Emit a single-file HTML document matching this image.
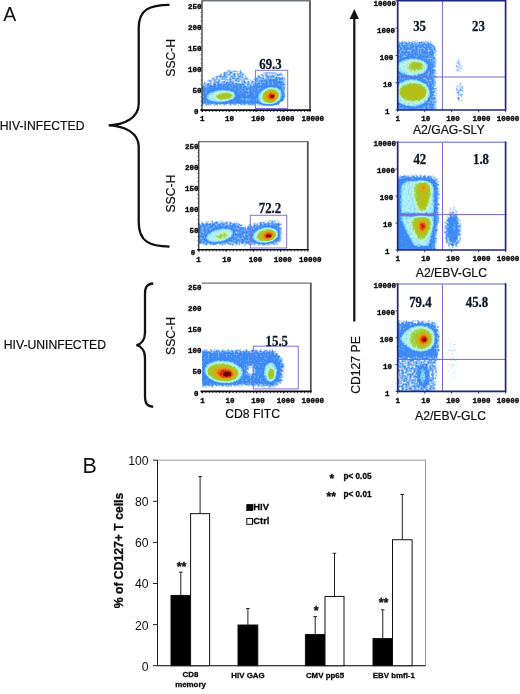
<!DOCTYPE html>
<html><head><meta charset="utf-8"><title>Figure</title>
<style>
html,body{margin:0;padding:0;background:#fff;}
body{width:520px;height:694px;overflow:hidden;}
svg{display:block;filter:blur(0.4px);}
</style></head>
<body>
<svg width="520" height="694" viewBox="0 0 520 694">
<rect width="520" height="694" fill="#fff"/>
<defs>
<filter id="cm" x="0" y="0" width="1" height="1" color-interpolation-filters="sRGB">
<feTurbulence type="fractalNoise" baseFrequency="0.5" numOctaves="2" seed="3" result="n"/>
<feColorMatrix in="n" type="matrix" values="0 0 0 0 0  0 0 0 0 0  0 0 0 0 0  1 0 0 0 0" result="na"/>
<feComponentTransfer in="SourceGraphic" result="m"><feFuncA type="table" tableValues="0 0.6 1 1 0.8 0.5 0.4 0.3 0.25 0.3 0.3 0.3 0.3 0.3 0.3 0.3 0.3 0.3 0.3 0.3 0.3"/></feComponentTransfer>
<feComposite in="m" in2="na" operator="in" result="mn"/>
<feComposite in="SourceGraphic" in2="mn" operator="arithmetic" k1="0" k2="1" k3="0.4" k4="0" result="t"/>
<feComposite in="t" in2="m" operator="arithmetic" k1="0" k2="1" k3="-0.2" k4="0" result="d"/>
<feColorMatrix type="matrix" values="0 0 0 1 0  0 0 0 1 0  0 0 0 1 0  0 0 0 0 1"/>
<feComponentTransfer>
<feFuncR type="table" tableValues="1.000 1.000 1.000 0.882 0.765 0.669 0.574 0.478 0.420 0.361 0.302 0.243 0.243 0.243 0.243 0.243 0.308 0.374 0.439 0.525 0.612 0.698 0.736 0.773 0.741 0.639 0.598 0.618 0.648 0.689 0.729 0.773 0.816 0.859 0.902 0.898 0.894 0.890 0.886 0.857 0.827 0.798 0.769 0.694 0.620 0.545 0.471 0.402 0.333 0.265 0.196"/>
<feFuncG type="table" tableValues="1.000 1.000 1.000 0.935 0.871 0.813 0.756 0.698 0.659 0.620 0.580 0.541 0.541 0.541 0.541 0.541 0.617 0.693 0.769 0.830 0.892 0.953 0.948 0.944 0.914 0.859 0.820 0.796 0.776 0.761 0.745 0.718 0.690 0.663 0.635 0.565 0.494 0.424 0.353 0.289 0.225 0.162 0.098 0.074 0.049 0.025 0.000 0.000 0.000 0.000 0.000"/>
<feFuncB type="table" tableValues="1.000 1.000 1.000 0.994 0.988 0.983 0.978 0.973 0.969 0.965 0.961 0.957 0.957 0.957 0.957 0.957 0.962 0.967 0.973 0.975 0.978 0.980 0.852 0.723 0.573 0.400 0.279 0.211 0.155 0.113 0.071 0.076 0.082 0.088 0.094 0.090 0.086 0.082 0.078 0.078 0.078 0.078 0.078 0.059 0.039 0.020 0.000 0.000 0.000 0.000 0.000"/>
</feComponentTransfer>
<feGaussianBlur stdDeviation="0.7"/>
</filter>
<filter id="b0_5" x="-100%" y="-100%" width="300%" height="300%" color-interpolation-filters="sRGB"><feGaussianBlur stdDeviation="0.5"/></filter>
<filter id="b0_8" x="-100%" y="-100%" width="300%" height="300%" color-interpolation-filters="sRGB"><feGaussianBlur stdDeviation="0.8"/></filter>
<filter id="b1" x="-100%" y="-100%" width="300%" height="300%" color-interpolation-filters="sRGB"><feGaussianBlur stdDeviation="1"/></filter>
<filter id="b1_2" x="-100%" y="-100%" width="300%" height="300%" color-interpolation-filters="sRGB"><feGaussianBlur stdDeviation="1.2"/></filter>
<filter id="b1_5" x="-100%" y="-100%" width="300%" height="300%" color-interpolation-filters="sRGB"><feGaussianBlur stdDeviation="1.5"/></filter>
<filter id="b2" x="-100%" y="-100%" width="300%" height="300%" color-interpolation-filters="sRGB"><feGaussianBlur stdDeviation="2"/></filter>
<filter id="b2_5" x="-100%" y="-100%" width="300%" height="300%" color-interpolation-filters="sRGB"><feGaussianBlur stdDeviation="2.5"/></filter>
<filter id="b3" x="-100%" y="-100%" width="300%" height="300%" color-interpolation-filters="sRGB"><feGaussianBlur stdDeviation="3"/></filter>
<filter id="b4" x="-100%" y="-100%" width="300%" height="300%" color-interpolation-filters="sRGB"><feGaussianBlur stdDeviation="4"/></filter>
<filter id="fr" x="-30%" y="-30%" width="160%" height="160%" color-interpolation-filters="sRGB"><feMorphology operator="dilate" radius="1.8"/><feGaussianBlur stdDeviation="1.4"/></filter>
</defs>
<g>
<clipPath id="c202_0"><rect x="202" y="0.8" width="108" height="109.3"/></clipPath><g filter="url(#cm)"><rect x="202" y="0.8" width="108" height="109.3" fill="none"/><g clip-path="url(#c202_0)"><path d="M201,84 L214,77 L228,70 L240,70 L247,77 L251,81 L258,75 L266,72 L283,73 L286,80 L285,100 L279,105 L201,105Z" fill-rule="evenodd" fill="#fff" fill-opacity="0.125" filter="url(#b1)"/><path d="M201,87 L215,84 L236,83 L250,88 L258,82 L270,78 L281,78 L284,88 L283,100 L277,104.5 L201,104.5Z" fill-rule="evenodd" fill="#fff" fill-opacity="0.097" filter="url(#b1_2)"/><ellipse cx="247" cy="99.5" rx="11" ry="2.6" fill="#fff" fill-opacity="0.177" filter="url(#b1_5)"/><ellipse cx="221" cy="96" rx="15" ry="6.4" fill="#fff" fill-opacity="0.266" filter="url(#b1_2)" transform="rotate(-4 221 96)"/><ellipse cx="224.3" cy="96.2" rx="8.7" ry="3.1" fill="#fff" fill-opacity="0.259" filter="url(#b1)" transform="rotate(-4 224.3 96.2)"/><ellipse cx="270" cy="96" rx="12.5" ry="9.3" fill="#fff" fill-opacity="0.266" filter="url(#b1_2)" transform="rotate(-15 270 96)"/><ellipse cx="270.5" cy="96" rx="8.5" ry="6.7" fill="#fff" fill-opacity="0.259" filter="url(#b1)" transform="rotate(-15 270.5 96)"/><ellipse cx="271" cy="96.1" rx="5.5" ry="4.5" fill="#fff" fill-opacity="0.302" filter="url(#b0_8)" transform="rotate(-15 271 96.1)"/><ellipse cx="271.9" cy="96.2" rx="3.2" ry="2.6" fill="#fff" fill-opacity="0.467" filter="url(#b0_8)" transform="rotate(-15 271.9 96.2)"/><ellipse cx="272.2" cy="96.2" rx="1.5" ry="1.2" fill="#fff" fill-opacity="0.687" filter="url(#b0_5)"/></g></g><line x1="310" y1="0.8" x2="310" y2="110.1" stroke="#555" stroke-width="1.8"/><line x1="201.7" y1="0.8" x2="310.9" y2="0.8" stroke="#6f767c" stroke-width="1.4"/><line x1="202" y1="0.8" x2="202" y2="110.1" stroke="#181818" stroke-width="1.1"/><line x1="201.1" y1="110.1" x2="201.1" y2="2.8" stroke="#333" stroke-width="0.8" stroke-dasharray="0.9 3.32"/><line x1="202" y1="111.3" x2="310" y2="111.3" stroke="#181828" stroke-width="1" stroke-dasharray="1 2.4"/><line x1="200.5" y1="110.1" x2="310.9" y2="110.1" stroke="#0c0c18" stroke-width="1.6"/><line x1="202.0" y1="110.1" x2="202.0" y2="112.1" stroke="#0c0c18" stroke-width="0.9"/><line x1="229.0" y1="110.1" x2="229.0" y2="112.1" stroke="#0c0c18" stroke-width="0.9"/><line x1="256.0" y1="110.1" x2="256.0" y2="112.1" stroke="#0c0c18" stroke-width="0.9"/><line x1="283.0" y1="110.1" x2="283.0" y2="112.1" stroke="#0c0c18" stroke-width="0.9"/><line x1="310.0" y1="110.1" x2="310.0" y2="112.1" stroke="#0c0c18" stroke-width="0.9"/><rect x="255.4" y="70.3" width="32.29999999999998" height="38.2" fill="none" stroke="#8272d8" stroke-width="1"/><text x="201.6" y="8.95" text-anchor="end" style="font-family:'Liberation Mono',monospace;font-weight:bold;font-size:7.5px;fill:#0a0a0a;stroke:#0a0a0a;stroke-width:0.35px">250</text><text x="201.6" y="30.05" text-anchor="end" style="font-family:'Liberation Mono',monospace;font-weight:bold;font-size:7.5px;fill:#0a0a0a;stroke:#0a0a0a;stroke-width:0.35px">200</text><text x="201.6" y="51.15" text-anchor="end" style="font-family:'Liberation Mono',monospace;font-weight:bold;font-size:7.5px;fill:#0a0a0a;stroke:#0a0a0a;stroke-width:0.35px">150</text><text x="201.6" y="72.25" text-anchor="end" style="font-family:'Liberation Mono',monospace;font-weight:bold;font-size:7.5px;fill:#0a0a0a;stroke:#0a0a0a;stroke-width:0.35px">100</text><text x="201.6" y="93.35" text-anchor="end" style="font-family:'Liberation Mono',monospace;font-weight:bold;font-size:7.5px;fill:#0a0a0a;stroke:#0a0a0a;stroke-width:0.35px">50</text><text x="198.4" y="114.35" text-anchor="end" style="font-family:'Liberation Mono',monospace;font-weight:bold;font-size:7.5px;fill:#0a0a0a;stroke:#0a0a0a;stroke-width:0.35px">0</text><text x="202.3" y="121.05" text-anchor="middle" style="font-family:'Liberation Mono',monospace;font-weight:bold;font-size:7.5px;fill:#0a0a0a;stroke:#0a0a0a;stroke-width:0.35px">1</text><text x="229.5" y="121.05" text-anchor="middle" style="font-family:'Liberation Mono',monospace;font-weight:bold;font-size:7.5px;fill:#0a0a0a;stroke:#0a0a0a;stroke-width:0.35px">10</text><text x="258.1" y="121.05" text-anchor="middle" style="font-family:'Liberation Mono',monospace;font-weight:bold;font-size:7.5px;fill:#0a0a0a;stroke:#0a0a0a;stroke-width:0.35px">100</text><text x="285.5" y="121.05" text-anchor="middle" style="font-family:'Liberation Mono',monospace;font-weight:bold;font-size:7.5px;fill:#0a0a0a;stroke:#0a0a0a;stroke-width:0.35px">1000</text><text x="312.8" y="121.05" text-anchor="middle" style="font-family:'Liberation Mono',monospace;font-weight:bold;font-size:7.5px;fill:#0a0a0a;stroke:#0a0a0a;stroke-width:0.35px">10000</text><text transform="translate(270.5 69.1) scale(1 1.07)" text-anchor="middle" style="font-family:'Liberation Serif',serif;font-weight:bold;font-size:12.8px;fill:#0a1626;stroke:#0a1626;stroke-width:0.25px">69.3</text>
<clipPath id="c198_141"><rect x="198.8" y="141.6" width="109.0" height="108.1"/></clipPath><g filter="url(#cm)"><rect x="198.8" y="141.6" width="109.0" height="108.1" fill="none"/><g clip-path="url(#c198_141)"><path d="M197,224.5 L215,223.5 L235,224.5 L241,227.5 L247,229.5 L252,226.5 L262,224.5 L275,223 L279.5,226 L279.5,238.5 L275,242.7 L197,242.7Z" fill-rule="evenodd" fill="#fff" fill-opacity="0.170" filter="url(#fr)"/><path d="M197,224.5 L215,223.5 L235,224.5 L241,227.5 L247,229.5 L252,226.5 L262,224.5 L275,223 L279.5,226 L279.5,238.5 L275,242.7 L197,242.7Z" fill-rule="evenodd" fill="#fff" fill-opacity="0.030" filter="url(#b1)"/><ellipse cx="219.7" cy="235.4" rx="14.3" ry="6.9" fill="#fff" fill-opacity="0.280" filter="url(#b1_2)" transform="rotate(-14 219.7 235.4)"/><ellipse cx="222" cy="236" rx="7" ry="2.8" fill="#fff" fill-opacity="0.172" filter="url(#b1)" transform="rotate(-14 222 236)"/><ellipse cx="265.5" cy="235.2" rx="13.5" ry="8.2" fill="#fff" fill-opacity="0.280" filter="url(#b1_2)" transform="rotate(-10 265.5 235.2)"/><ellipse cx="266.5" cy="235.4" rx="9.8" ry="5.8" fill="#fff" fill-opacity="0.259" filter="url(#b1)" transform="rotate(-10 266.5 235.4)"/><ellipse cx="267.6" cy="235.4" rx="6.3" ry="3.9" fill="#fff" fill-opacity="0.302" filter="url(#b0_8)" transform="rotate(-10 267.6 235.4)"/><ellipse cx="268.5" cy="235.7" rx="3.8" ry="2.7" fill="#fff" fill-opacity="0.467" filter="url(#b0_8)" transform="rotate(-10 268.5 235.7)"/><ellipse cx="268.9" cy="235.9" rx="2" ry="1.2" fill="#fff" fill-opacity="0.687" filter="url(#b0_5)"/></g></g><line x1="307.8" y1="141.6" x2="307.8" y2="249.7" stroke="#555" stroke-width="1.8"/><line x1="198.5" y1="141.6" x2="308.7" y2="141.6" stroke="#6f767c" stroke-width="1.4"/><line x1="198.8" y1="141.6" x2="198.8" y2="249.7" stroke="#181818" stroke-width="1.1"/><line x1="197.9" y1="249.7" x2="197.9" y2="143.6" stroke="#333" stroke-width="0.8" stroke-dasharray="0.9 3.32"/><line x1="198.8" y1="250.89999999999998" x2="307.8" y2="250.89999999999998" stroke="#181828" stroke-width="1" stroke-dasharray="1 2.4"/><line x1="197.3" y1="249.7" x2="308.7" y2="249.7" stroke="#0c0c18" stroke-width="1.6"/><line x1="198.8" y1="249.7" x2="198.8" y2="251.7" stroke="#0c0c18" stroke-width="0.9"/><line x1="226.1" y1="249.7" x2="226.1" y2="251.7" stroke="#0c0c18" stroke-width="0.9"/><line x1="253.3" y1="249.7" x2="253.3" y2="251.7" stroke="#0c0c18" stroke-width="0.9"/><line x1="280.6" y1="249.7" x2="280.6" y2="251.7" stroke="#0c0c18" stroke-width="0.9"/><line x1="307.8" y1="249.7" x2="307.8" y2="251.7" stroke="#0c0c18" stroke-width="0.9"/><rect x="250.3" y="215.3" width="36.39999999999998" height="32.69999999999999" fill="none" stroke="#8272d8" stroke-width="1"/><text x="198.4" y="148.55" text-anchor="end" style="font-family:'Liberation Mono',monospace;font-weight:bold;font-size:7.5px;fill:#0a0a0a;stroke:#0a0a0a;stroke-width:0.35px">250</text><text x="198.4" y="169.65" text-anchor="end" style="font-family:'Liberation Mono',monospace;font-weight:bold;font-size:7.5px;fill:#0a0a0a;stroke:#0a0a0a;stroke-width:0.35px">200</text><text x="198.4" y="190.75" text-anchor="end" style="font-family:'Liberation Mono',monospace;font-weight:bold;font-size:7.5px;fill:#0a0a0a;stroke:#0a0a0a;stroke-width:0.35px">150</text><text x="198.4" y="211.85000000000002" text-anchor="end" style="font-family:'Liberation Mono',monospace;font-weight:bold;font-size:7.5px;fill:#0a0a0a;stroke:#0a0a0a;stroke-width:0.35px">100</text><text x="198.4" y="232.95000000000002" text-anchor="end" style="font-family:'Liberation Mono',monospace;font-weight:bold;font-size:7.5px;fill:#0a0a0a;stroke:#0a0a0a;stroke-width:0.35px">50</text><text x="195.20000000000002" y="254.55" text-anchor="end" style="font-family:'Liberation Mono',monospace;font-weight:bold;font-size:7.5px;fill:#0a0a0a;stroke:#0a0a0a;stroke-width:0.35px">0</text><text x="198.5" y="261.85" text-anchor="middle" style="font-family:'Liberation Mono',monospace;font-weight:bold;font-size:7.5px;fill:#0a0a0a;stroke:#0a0a0a;stroke-width:0.35px">1</text><text x="226.7" y="261.85" text-anchor="middle" style="font-family:'Liberation Mono',monospace;font-weight:bold;font-size:7.5px;fill:#0a0a0a;stroke:#0a0a0a;stroke-width:0.35px">10</text><text x="255.5" y="261.85" text-anchor="middle" style="font-family:'Liberation Mono',monospace;font-weight:bold;font-size:7.5px;fill:#0a0a0a;stroke:#0a0a0a;stroke-width:0.35px">100</text><text x="282.7" y="261.85" text-anchor="middle" style="font-family:'Liberation Mono',monospace;font-weight:bold;font-size:7.5px;fill:#0a0a0a;stroke:#0a0a0a;stroke-width:0.35px">1000</text><text x="310.2" y="261.85" text-anchor="middle" style="font-family:'Liberation Mono',monospace;font-weight:bold;font-size:7.5px;fill:#0a0a0a;stroke:#0a0a0a;stroke-width:0.35px">10000</text><text transform="translate(270 213.3) scale(1 1.07)" text-anchor="middle" style="font-family:'Liberation Serif',serif;font-weight:bold;font-size:12.8px;fill:#0a1626;stroke:#0a1626;stroke-width:0.25px">72.2</text>
<clipPath id="c202_283"><rect x="202" y="283.1" width="108.80000000000001" height="108.29999999999995"/></clipPath><g filter="url(#cm)"><rect x="202" y="283.1" width="108.80000000000001" height="108.29999999999995" fill="none"/><g clip-path="url(#c202_283)"><path d="M201,352 L273,352 L279,358.5 L282,366 L280,380 L272,385 L250,383.5 L201,385Z M250.5,363.5 C254,363.5 255.5,367 255.5,370.5 C255.5,374 254,377.5 250.5,377.5 C247.5,377.5 246,374 246,370.5 C246,367 247.5,363.5 250.5,363.5Z" fill-rule="evenodd" fill="#fff" fill-opacity="0.170" filter="url(#fr)"/><path d="M201,352 L273,352 L279,358.5 L282,366 L280,380 L272,385 L250,383.5 L201,385Z M250.5,363.5 C254,363.5 255.5,367 255.5,370.5 C255.5,374 254,377.5 250.5,377.5 C247.5,377.5 246,374 246,370.5 C246,367 247.5,363.5 250.5,363.5Z" fill-rule="evenodd" fill="#fff" fill-opacity="0.072" filter="url(#b1)"/><ellipse cx="223.7" cy="371.8" rx="19.6" ry="11.6" fill="#fff" fill-opacity="0.247" filter="url(#b1_2)" transform="rotate(6 223.7 371.8)"/><ellipse cx="223" cy="372.4" rx="15.6" ry="8.9" fill="#fff" fill-opacity="0.259" filter="url(#b1)" transform="rotate(6 223 372.4)"/><ellipse cx="224.3" cy="373" rx="11" ry="6" fill="#fff" fill-opacity="0.302" filter="url(#b0_8)" transform="rotate(6 224.3 373)"/><ellipse cx="225.8" cy="373.9" rx="6.7" ry="4.2" fill="#fff" fill-opacity="0.467" filter="url(#b0_8)" transform="rotate(6 225.8 373.9)"/><ellipse cx="227.2" cy="374.3" rx="3.5" ry="2.2" fill="#fff" fill-opacity="0.687" filter="url(#b0_5)" transform="rotate(6 227.2 374.3)"/><ellipse cx="270.5" cy="372" rx="6.8" ry="10.3" fill="#fff" fill-opacity="0.247" filter="url(#b1_2)"/><ellipse cx="271.2" cy="373.9" rx="2.9" ry="5.8" fill="#fff" fill-opacity="0.310" filter="url(#b0_8)"/></g></g><line x1="310.8" y1="283.1" x2="310.8" y2="391.4" stroke="#555" stroke-width="1.8"/><line x1="201.7" y1="283.1" x2="311.7" y2="283.1" stroke="#6f767c" stroke-width="1.4"/><line x1="202" y1="392.59999999999997" x2="310.8" y2="392.59999999999997" stroke="#181828" stroke-width="1" stroke-dasharray="1 2.4"/><line x1="200.5" y1="391.4" x2="311.7" y2="391.4" stroke="#0c0c18" stroke-width="1.6"/><line x1="202.0" y1="391.4" x2="202.0" y2="393.4" stroke="#0c0c18" stroke-width="0.9"/><line x1="229.2" y1="391.4" x2="229.2" y2="393.4" stroke="#0c0c18" stroke-width="0.9"/><line x1="256.4" y1="391.4" x2="256.4" y2="393.4" stroke="#0c0c18" stroke-width="0.9"/><line x1="283.6" y1="391.4" x2="283.6" y2="393.4" stroke="#0c0c18" stroke-width="0.9"/><line x1="310.8" y1="391.4" x2="310.8" y2="393.4" stroke="#0c0c18" stroke-width="0.9"/><rect x="253.3" y="346.2" width="45.0" height="42.69999999999999" fill="none" stroke="#8272d8" stroke-width="1"/><text x="201.6" y="290.05" text-anchor="end" style="font-family:'Liberation Mono',monospace;font-weight:bold;font-size:7.5px;fill:#0a0a0a;stroke:#0a0a0a;stroke-width:0.35px">250</text><text x="201.6" y="311.15000000000003" text-anchor="end" style="font-family:'Liberation Mono',monospace;font-weight:bold;font-size:7.5px;fill:#0a0a0a;stroke:#0a0a0a;stroke-width:0.35px">200</text><text x="201.6" y="332.25" text-anchor="end" style="font-family:'Liberation Mono',monospace;font-weight:bold;font-size:7.5px;fill:#0a0a0a;stroke:#0a0a0a;stroke-width:0.35px">150</text><text x="201.6" y="353.35" text-anchor="end" style="font-family:'Liberation Mono',monospace;font-weight:bold;font-size:7.5px;fill:#0a0a0a;stroke:#0a0a0a;stroke-width:0.35px">100</text><text x="201.6" y="374.45" text-anchor="end" style="font-family:'Liberation Mono',monospace;font-weight:bold;font-size:7.5px;fill:#0a0a0a;stroke:#0a0a0a;stroke-width:0.35px">50</text><text x="198.4" y="396.05" text-anchor="end" style="font-family:'Liberation Mono',monospace;font-weight:bold;font-size:7.5px;fill:#0a0a0a;stroke:#0a0a0a;stroke-width:0.35px">0</text><text x="202.6" y="403.35" text-anchor="middle" style="font-family:'Liberation Mono',monospace;font-weight:bold;font-size:7.5px;fill:#0a0a0a;stroke:#0a0a0a;stroke-width:0.35px">1</text><text x="229.9" y="403.35" text-anchor="middle" style="font-family:'Liberation Mono',monospace;font-weight:bold;font-size:7.5px;fill:#0a0a0a;stroke:#0a0a0a;stroke-width:0.35px">10</text><text x="258.1" y="403.35" text-anchor="middle" style="font-family:'Liberation Mono',monospace;font-weight:bold;font-size:7.5px;fill:#0a0a0a;stroke:#0a0a0a;stroke-width:0.35px">100</text><text x="285.7" y="403.35" text-anchor="middle" style="font-family:'Liberation Mono',monospace;font-weight:bold;font-size:7.5px;fill:#0a0a0a;stroke:#0a0a0a;stroke-width:0.35px">1000</text><text x="312.8" y="403.35" text-anchor="middle" style="font-family:'Liberation Mono',monospace;font-weight:bold;font-size:7.5px;fill:#0a0a0a;stroke:#0a0a0a;stroke-width:0.35px">10000</text><text transform="translate(276.8 345.5) scale(1 1.07)" text-anchor="middle" style="font-family:'Liberation Serif',serif;font-weight:bold;font-size:12.8px;fill:#0a1626;stroke:#0a1626;stroke-width:0.25px">15.5</text>
<clipPath id="c397_0"><rect x="397.7" y="0.8" width="107.90000000000003" height="109.2"/></clipPath><g filter="url(#cm)"><rect x="397.7" y="0.8" width="107.90000000000003" height="109.2" fill="none"/><g clip-path="url(#c397_0)"><path d="M396,43.5 L424.8,43.5 Q433.8,43.5 433.8,52.5 L433.8,111 L396,111Z" fill-rule="evenodd" fill="#fff" fill-opacity="0.170" filter="url(#fr)"/><path d="M396,43.5 L424.8,43.5 Q433.8,43.5 433.8,52.5 L433.8,111 L396,111Z" fill-rule="evenodd" fill="#fff" fill-opacity="0.036" filter="url(#b1)"/><ellipse cx="412.5" cy="67" rx="16" ry="9.3" fill="#fff" fill-opacity="0.275" filter="url(#b1_2)"/><ellipse cx="415.5" cy="66.5" rx="9.2" ry="5.6" fill="#fff" fill-opacity="0.155" filter="url(#b1)"/><ellipse cx="416" cy="65.6" rx="4.8" ry="2.4" fill="#fff" fill-opacity="0.163" filter="url(#b0_8)"/><ellipse cx="412" cy="93" rx="18.5" ry="14.2" fill="#fff" fill-opacity="0.275" filter="url(#b1_2)"/><ellipse cx="413" cy="92.3" rx="14.2" ry="9.8" fill="#fff" fill-opacity="0.190" filter="url(#b1)"/><ellipse cx="413.5" cy="92.3" rx="12.2" ry="7.3" fill="#fff" fill-opacity="0.149" filter="url(#b0_8)"/><ellipse cx="459" cy="65.8" rx="3.8" ry="7.5" fill="#fff" fill-opacity="0.080" filter="url(#b1_2)"/><ellipse cx="459.7" cy="92" rx="4.5" ry="10.5" fill="#fff" fill-opacity="0.084" filter="url(#b1_2)"/></g></g><line x1="442.4" y1="0.8" x2="442.4" y2="110" stroke="#7468d4" stroke-width="1"/><line x1="397.7" y1="77" x2="505.6" y2="77" stroke="#7468d4" stroke-width="1"/><line x1="397.7" y1="0.8" x2="505.6" y2="0.8" stroke="#1e2684" stroke-width="1.6"/><path d="M397.7,0.0 L397.7,110 L505.6,110 L505.6,0.0" fill="none" stroke="#1e2684" stroke-width="1.7"/><line x1="397.7" y1="110" x2="397.7" y2="112.2" stroke="#1e2684" stroke-width="0.9"/><line x1="395.5" y1="0.8" x2="397.7" y2="0.8" stroke="#1e2684" stroke-width="0.9"/><line x1="424.7" y1="110" x2="424.7" y2="112.2" stroke="#1e2684" stroke-width="0.9"/><line x1="395.5" y1="28.1" x2="397.7" y2="28.1" stroke="#1e2684" stroke-width="0.9"/><line x1="451.6" y1="110" x2="451.6" y2="112.2" stroke="#1e2684" stroke-width="0.9"/><line x1="395.5" y1="55.4" x2="397.7" y2="55.4" stroke="#1e2684" stroke-width="0.9"/><line x1="478.6" y1="110" x2="478.6" y2="112.2" stroke="#1e2684" stroke-width="0.9"/><line x1="395.5" y1="82.7" x2="397.7" y2="82.7" stroke="#1e2684" stroke-width="0.9"/><line x1="505.6" y1="110" x2="505.6" y2="112.2" stroke="#1e2684" stroke-width="0.9"/><line x1="395.5" y1="110.0" x2="397.7" y2="110.0" stroke="#1e2684" stroke-width="0.9"/><text x="396.0" y="6.05" text-anchor="end" style="font-family:'Liberation Mono',monospace;font-weight:bold;font-size:7.5px;fill:#0a0a0a;stroke:#0a0a0a;stroke-width:0.35px">10000</text><text x="395.09999999999997" y="33.15" text-anchor="end" style="font-family:'Liberation Mono',monospace;font-weight:bold;font-size:7.5px;fill:#0a0a0a;stroke:#0a0a0a;stroke-width:0.35px">1000</text><text x="393.3" y="60.25" text-anchor="end" style="font-family:'Liberation Mono',monospace;font-weight:bold;font-size:7.5px;fill:#0a0a0a;stroke:#0a0a0a;stroke-width:0.35px">100</text><text x="391.9" y="86.85" text-anchor="end" style="font-family:'Liberation Mono',monospace;font-weight:bold;font-size:7.5px;fill:#0a0a0a;stroke:#0a0a0a;stroke-width:0.35px">10</text><text x="389.4" y="114.14999999999999" text-anchor="end" style="font-family:'Liberation Mono',monospace;font-weight:bold;font-size:7.5px;fill:#0a0a0a;stroke:#0a0a0a;stroke-width:0.35px">1</text><text x="397.8" y="120.75" text-anchor="middle" style="font-family:'Liberation Mono',monospace;font-weight:bold;font-size:7.5px;fill:#0a0a0a;stroke:#0a0a0a;stroke-width:0.35px">1</text><text x="425.8" y="120.75" text-anchor="middle" style="font-family:'Liberation Mono',monospace;font-weight:bold;font-size:7.5px;fill:#0a0a0a;stroke:#0a0a0a;stroke-width:0.35px">10</text><text x="453.1" y="120.75" text-anchor="middle" style="font-family:'Liberation Mono',monospace;font-weight:bold;font-size:7.5px;fill:#0a0a0a;stroke:#0a0a0a;stroke-width:0.35px">100</text><text x="481.4" y="120.75" text-anchor="middle" style="font-family:'Liberation Mono',monospace;font-weight:bold;font-size:7.5px;fill:#0a0a0a;stroke:#0a0a0a;stroke-width:0.35px">1000</text><text x="508.1" y="120.75" text-anchor="middle" style="font-family:'Liberation Mono',monospace;font-weight:bold;font-size:7.5px;fill:#0a0a0a;stroke:#0a0a0a;stroke-width:0.35px">10000</text><text transform="translate(419.6 30.7) scale(1 1.07)" text-anchor="middle" style="font-family:'Liberation Serif',serif;font-weight:bold;font-size:12.8px;fill:#0a1626;stroke:#0a1626;stroke-width:0.25px">35</text><text transform="translate(478.4 30.7) scale(1 1.07)" text-anchor="middle" style="font-family:'Liberation Serif',serif;font-weight:bold;font-size:12.8px;fill:#0a1626;stroke:#0a1626;stroke-width:0.25px">23</text>
<clipPath id="c397_142"><rect x="397.7" y="142.2" width="107.90000000000003" height="107.80000000000001"/></clipPath><g filter="url(#cm)"><rect x="397.7" y="142.2" width="107.90000000000003" height="107.80000000000001" fill="none"/><g clip-path="url(#c397_142)"><path d="M396,180.5 Q398,177.6 406,177.4 L427,177.4 Q436.6,178 436.8,188 L436.8,216 L433,251 L396,251Z" fill-rule="evenodd" fill="#fff" fill-opacity="0.170" filter="url(#fr)"/><path d="M396,180.5 Q398,177.6 406,177.4 L427,177.4 Q436.6,178 436.8,188 L436.8,216 L433,251 L396,251Z" fill-rule="evenodd" fill="#fff" fill-opacity="0.096" filter="url(#b1)"/><path d="M400.6,189 Q401,180.4 411,180.4 L424,180.4 Q434.2,181 434.2,190 L434.2,213.6 L400.6,213.6Z" fill-rule="evenodd" fill="#fff" fill-opacity="0.227" filter="url(#b1_2)"/><path d="M422.4,181.6 C428.56,181.6 431.20,184.08 431.20,189.35 C431.20,198.65 428.38,204.85 427.00,208.88 C426.08,212.6 418.72,212.6 417.80,208.88 C416.42,204.85 413.60,198.65 413.60,189.35 C413.60,184.08 416.24,181.6 422.4,181.6Z" fill-rule="evenodd" fill="#fff" fill-opacity="0.172" filter="url(#b1)"/><path d="M422.8,183.6 C426.86,183.6 428.60,185.63 428.60,189.95 C428.60,197.57 426.70,202.65 425.80,205.95 C425.20,209 420.40,209 419.80,205.95 C418.90,202.65 417.00,197.57 417.00,189.95 C417.00,185.63 418.74,183.6 422.8,183.6Z" fill-rule="evenodd" fill="#fff" fill-opacity="0.167" filter="url(#b0_8)"/><ellipse cx="423.2" cy="189" rx="2.8" ry="4.6" fill="#fff" fill-opacity="0.163" filter="url(#b0_8)"/><ellipse cx="423.2" cy="187.6" rx="1.6" ry="2.2" fill="#fff" fill-opacity="0.194" filter="url(#b0_5)"/><path d="M399.6,216 L434.4,216 Q433.5,232 428.5,246.5 L414.5,246.5 Q405.5,232 399.6,216Z" fill-rule="evenodd" fill="#fff" fill-opacity="0.227" filter="url(#b1_2)"/><path d="M421.4,216.2 C428.68,216.2 431.80,218.18 431.80,223.64 C431.80,229.84 426.86,234.80 425.60,238.02 C424.76,241 418.04,241 417.20,238.02 C415.94,234.80 411.00,229.84 411.00,223.64 C411.00,218.18 414.12,216.2 421.4,216.2Z" fill-rule="evenodd" fill="#fff" fill-opacity="0.172" filter="url(#b1)"/><path d="M421.8,218 C426.84,218 429.00,219.55 429.00,224.40 C429.00,228.67 425.70,232.55 424.80,235.07 C424.20,237.4 419.40,237.4 418.80,235.07 C417.90,232.55 414.60,228.67 414.60,224.40 C414.60,219.55 416.76,218 421.8,218Z" fill-rule="evenodd" fill="#fff" fill-opacity="0.167" filter="url(#b0_8)"/><ellipse cx="422.2" cy="226.3" rx="4.6" ry="6" fill="#fff" fill-opacity="0.250" filter="url(#b0_8)"/><ellipse cx="422.8" cy="226.2" rx="3" ry="3.5" fill="#fff" fill-opacity="0.400" filter="url(#b0_8)"/><ellipse cx="453" cy="224" rx="5" ry="18" fill="#fff" fill-opacity="0.090" filter="url(#b1_2)"/><ellipse cx="452.8" cy="231.5" rx="7.2" ry="15.3" fill="#fff" fill-opacity="0.088" filter="url(#fr)"/><ellipse cx="452.8" cy="231.5" rx="7.2" ry="15.3" fill="#fff" fill-opacity="0.096" filter="url(#b1_2)"/><ellipse cx="454.3" cy="226.5" rx="1.6" ry="5.5" fill="#fff" fill-opacity="0.147" filter="url(#b0_8)"/></g></g><line x1="442.5" y1="142.2" x2="442.5" y2="250" stroke="#7468d4" stroke-width="1"/><line x1="397.7" y1="214.6" x2="505.6" y2="214.6" stroke="#7468d4" stroke-width="1"/><line x1="397.7" y1="142.2" x2="505.6" y2="142.2" stroke="#9494d6" stroke-width="1.6"/><path d="M397.7,141.39999999999998 L397.7,250 L505.6,250 L505.6,141.39999999999998" fill="none" stroke="#1e2684" stroke-width="1.7"/><line x1="397.7" y1="250" x2="397.7" y2="252.2" stroke="#1e2684" stroke-width="0.9"/><line x1="395.5" y1="142.2" x2="397.7" y2="142.2" stroke="#1e2684" stroke-width="0.9"/><line x1="424.7" y1="250" x2="424.7" y2="252.2" stroke="#1e2684" stroke-width="0.9"/><line x1="395.5" y1="169.1" x2="397.7" y2="169.1" stroke="#1e2684" stroke-width="0.9"/><line x1="451.6" y1="250" x2="451.6" y2="252.2" stroke="#1e2684" stroke-width="0.9"/><line x1="395.5" y1="196.1" x2="397.7" y2="196.1" stroke="#1e2684" stroke-width="0.9"/><line x1="478.6" y1="250" x2="478.6" y2="252.2" stroke="#1e2684" stroke-width="0.9"/><line x1="395.5" y1="223.1" x2="397.7" y2="223.1" stroke="#1e2684" stroke-width="0.9"/><line x1="505.6" y1="250" x2="505.6" y2="252.2" stroke="#1e2684" stroke-width="0.9"/><line x1="395.5" y1="250.0" x2="397.7" y2="250.0" stroke="#1e2684" stroke-width="0.9"/><text x="396.0" y="145.95000000000002" text-anchor="end" style="font-family:'Liberation Mono',monospace;font-weight:bold;font-size:7.5px;fill:#0a0a0a;stroke:#0a0a0a;stroke-width:0.35px">10000</text><text x="395.09999999999997" y="173.35000000000002" text-anchor="end" style="font-family:'Liberation Mono',monospace;font-weight:bold;font-size:7.5px;fill:#0a0a0a;stroke:#0a0a0a;stroke-width:0.35px">1000</text><text x="393.3" y="200.05" text-anchor="end" style="font-family:'Liberation Mono',monospace;font-weight:bold;font-size:7.5px;fill:#0a0a0a;stroke:#0a0a0a;stroke-width:0.35px">100</text><text x="391.9" y="227.05" text-anchor="end" style="font-family:'Liberation Mono',monospace;font-weight:bold;font-size:7.5px;fill:#0a0a0a;stroke:#0a0a0a;stroke-width:0.35px">10</text><text x="389.4" y="254.05" text-anchor="end" style="font-family:'Liberation Mono',monospace;font-weight:bold;font-size:7.5px;fill:#0a0a0a;stroke:#0a0a0a;stroke-width:0.35px">1</text><text x="397.8" y="260.95" text-anchor="middle" style="font-family:'Liberation Mono',monospace;font-weight:bold;font-size:7.5px;fill:#0a0a0a;stroke:#0a0a0a;stroke-width:0.35px">1</text><text x="425.8" y="260.95" text-anchor="middle" style="font-family:'Liberation Mono',monospace;font-weight:bold;font-size:7.5px;fill:#0a0a0a;stroke:#0a0a0a;stroke-width:0.35px">10</text><text x="453.1" y="260.95" text-anchor="middle" style="font-family:'Liberation Mono',monospace;font-weight:bold;font-size:7.5px;fill:#0a0a0a;stroke:#0a0a0a;stroke-width:0.35px">100</text><text x="481.4" y="260.95" text-anchor="middle" style="font-family:'Liberation Mono',monospace;font-weight:bold;font-size:7.5px;fill:#0a0a0a;stroke:#0a0a0a;stroke-width:0.35px">1000</text><text x="508.1" y="260.95" text-anchor="middle" style="font-family:'Liberation Mono',monospace;font-weight:bold;font-size:7.5px;fill:#0a0a0a;stroke:#0a0a0a;stroke-width:0.35px">10000</text><text transform="translate(419.8 163.9) scale(1 1.07)" text-anchor="middle" style="font-family:'Liberation Serif',serif;font-weight:bold;font-size:12.8px;fill:#0a1626;stroke:#0a1626;stroke-width:0.25px">42</text><text transform="translate(481 163.9) scale(1 1.07)" text-anchor="middle" style="font-family:'Liberation Serif',serif;font-weight:bold;font-size:12.8px;fill:#0a1626;stroke:#0a1626;stroke-width:0.25px">1.8</text>
<clipPath id="c397_284"><rect x="397.7" y="284" width="107.90000000000003" height="107.39999999999998"/></clipPath><g filter="url(#cm)"><rect x="397.7" y="284" width="107.90000000000003" height="107.39999999999998" fill="none"/><g clip-path="url(#c397_284)"><path d="M396,353 L438,353 L435,393 L396,393Z" fill-rule="evenodd" fill="#fff" fill-opacity="0.135" filter="url(#b1)"/><ellipse cx="422.8" cy="376" rx="4.2" ry="10.5" fill="#fff" fill-opacity="0.306" filter="url(#b2)"/><path d="M396,323.3 L427,323.3 Q437.2,324 437.2,334 L437.2,350 Q436,355 430,355 L396,355Z" fill-rule="evenodd" fill="#fff" fill-opacity="0.170" filter="url(#fr)"/><path d="M396,323.3 L427,323.3 Q437.2,324 437.2,334 L437.2,350 Q436,355 430,355 L396,355Z" fill-rule="evenodd" fill="#fff" fill-opacity="0.054" filter="url(#b1)"/><path d="M399.5,338.5 Q407,325.5 420,325 Q435.6,325.5 435.6,338.5 Q435.6,351.5 420,352 Q407,351.5 399.5,338.5Z" fill-rule="evenodd" fill="#fff" fill-opacity="0.261" filter="url(#b1_2)"/><ellipse cx="421" cy="338.8" rx="12" ry="10.8" fill="#fff" fill-opacity="0.172" filter="url(#b1)"/><ellipse cx="422.8" cy="339.2" rx="7.3" ry="8" fill="#fff" fill-opacity="0.167" filter="url(#b0_8)"/><ellipse cx="423.6" cy="339.6" rx="5.4" ry="5.8" fill="#fff" fill-opacity="0.250" filter="url(#b0_8)"/><ellipse cx="424" cy="339.6" rx="3.5" ry="3.5" fill="#fff" fill-opacity="0.467" filter="url(#b0_8)"/><ellipse cx="424.3" cy="339.8" rx="1.5" ry="1.5" fill="#fff" fill-opacity="0.687" filter="url(#b0_5)"/><ellipse cx="452" cy="358" rx="7" ry="22" fill="#fff" fill-opacity="0.039" filter="url(#b2)"/></g></g><line x1="442.5" y1="284" x2="442.5" y2="391.4" stroke="#7468d4" stroke-width="1"/><line x1="397.7" y1="359.4" x2="505.6" y2="359.4" stroke="#7468d4" stroke-width="1"/><line x1="397.7" y1="284" x2="505.6" y2="284" stroke="#9494d6" stroke-width="1.6"/><path d="M397.7,283.2 L397.7,391.4 L505.6,391.4 L505.6,283.2" fill="none" stroke="#1e2684" stroke-width="1.7"/><line x1="397.7" y1="391.4" x2="397.7" y2="393.59999999999997" stroke="#1e2684" stroke-width="0.9"/><line x1="395.5" y1="284.0" x2="397.7" y2="284.0" stroke="#1e2684" stroke-width="0.9"/><line x1="424.7" y1="391.4" x2="424.7" y2="393.59999999999997" stroke="#1e2684" stroke-width="0.9"/><line x1="395.5" y1="310.9" x2="397.7" y2="310.9" stroke="#1e2684" stroke-width="0.9"/><line x1="451.6" y1="391.4" x2="451.6" y2="393.59999999999997" stroke="#1e2684" stroke-width="0.9"/><line x1="395.5" y1="337.7" x2="397.7" y2="337.7" stroke="#1e2684" stroke-width="0.9"/><line x1="478.6" y1="391.4" x2="478.6" y2="393.59999999999997" stroke="#1e2684" stroke-width="0.9"/><line x1="395.5" y1="364.5" x2="397.7" y2="364.5" stroke="#1e2684" stroke-width="0.9"/><line x1="505.6" y1="391.4" x2="505.6" y2="393.59999999999997" stroke="#1e2684" stroke-width="0.9"/><line x1="395.5" y1="391.4" x2="397.7" y2="391.4" stroke="#1e2684" stroke-width="0.9"/><text x="396.0" y="287.55" text-anchor="end" style="font-family:'Liberation Mono',monospace;font-weight:bold;font-size:7.5px;fill:#0a0a0a;stroke:#0a0a0a;stroke-width:0.35px">10000</text><text x="395.09999999999997" y="315.25" text-anchor="end" style="font-family:'Liberation Mono',monospace;font-weight:bold;font-size:7.5px;fill:#0a0a0a;stroke:#0a0a0a;stroke-width:0.35px">1000</text><text x="393.3" y="341.75" text-anchor="end" style="font-family:'Liberation Mono',monospace;font-weight:bold;font-size:7.5px;fill:#0a0a0a;stroke:#0a0a0a;stroke-width:0.35px">100</text><text x="391.9" y="368.55" text-anchor="end" style="font-family:'Liberation Mono',monospace;font-weight:bold;font-size:7.5px;fill:#0a0a0a;stroke:#0a0a0a;stroke-width:0.35px">10</text><text x="389.4" y="395.95" text-anchor="end" style="font-family:'Liberation Mono',monospace;font-weight:bold;font-size:7.5px;fill:#0a0a0a;stroke:#0a0a0a;stroke-width:0.35px">1</text><text x="397.8" y="402.95" text-anchor="middle" style="font-family:'Liberation Mono',monospace;font-weight:bold;font-size:7.5px;fill:#0a0a0a;stroke:#0a0a0a;stroke-width:0.35px">1</text><text x="425.8" y="402.95" text-anchor="middle" style="font-family:'Liberation Mono',monospace;font-weight:bold;font-size:7.5px;fill:#0a0a0a;stroke:#0a0a0a;stroke-width:0.35px">10</text><text x="453.1" y="402.95" text-anchor="middle" style="font-family:'Liberation Mono',monospace;font-weight:bold;font-size:7.5px;fill:#0a0a0a;stroke:#0a0a0a;stroke-width:0.35px">100</text><text x="481.4" y="402.95" text-anchor="middle" style="font-family:'Liberation Mono',monospace;font-weight:bold;font-size:7.5px;fill:#0a0a0a;stroke:#0a0a0a;stroke-width:0.35px">1000</text><text x="508.1" y="402.95" text-anchor="middle" style="font-family:'Liberation Mono',monospace;font-weight:bold;font-size:7.5px;fill:#0a0a0a;stroke:#0a0a0a;stroke-width:0.35px">10000</text><text transform="translate(420.4 306.5) scale(1 1.07)" text-anchor="middle" style="font-family:'Liberation Serif',serif;font-weight:bold;font-size:12.8px;fill:#0a1626;stroke:#0a1626;stroke-width:0.25px">79.4</text><text transform="translate(477 306.5) scale(1 1.07)" text-anchor="middle" style="font-family:'Liberation Serif',serif;font-weight:bold;font-size:12.8px;fill:#0a1626;stroke:#0a1626;stroke-width:0.25px">45.8</text>
<text x="3.2" y="20.6" style="font-family:'Liberation Sans',sans-serif;font-size:19.5px;fill:#111">A</text>
<text x="-0.2" y="129.9" text-anchor="start" style="font-family:'Liberation Sans',sans-serif;font-size:12.2px;fill:#111;stroke:#111;stroke-width:0.2px">HIV-INFECTED</text>
<text x="3.8" y="348.5" text-anchor="start" style="font-family:'Liberation Sans',sans-serif;font-size:12.2px;fill:#111;stroke:#111;stroke-width:0.2px">HIV-UNINFECTED</text>
<text transform="translate(175 57.8) rotate(-90)" text-anchor="middle" style="font-family:'Liberation Sans',sans-serif;font-size:12.2px;fill:#111;stroke:#111;stroke-width:0.2px">SSC-H</text>
<text transform="translate(175 193.6) rotate(-90)" text-anchor="middle" style="font-family:'Liberation Sans',sans-serif;font-size:12.2px;fill:#111;stroke:#111;stroke-width:0.2px">SSC-H</text>
<text transform="translate(175 336) rotate(-90)" text-anchor="middle" style="font-family:'Liberation Sans',sans-serif;font-size:12.2px;fill:#111;stroke:#111;stroke-width:0.2px">SSC-H</text>
<text transform="translate(360 365) rotate(-90)" text-anchor="middle" style="font-family:'Liberation Sans',sans-serif;font-size:12.2px;fill:#111;stroke:#111;stroke-width:0.2px">CD127 PE</text>
<text x="252.6" y="417.8" text-anchor="middle" style="font-family:'Liberation Sans',sans-serif;font-size:12.2px;fill:#111;stroke:#111;stroke-width:0.2px">CD8 FITC</text>
<text x="448.75" y="134.3" text-anchor="middle" style="font-family:'Liberation Sans',sans-serif;font-size:12.2px;fill:#111;stroke:#111;stroke-width:0.2px">A2/GAG-SLY</text>
<text x="451.4" y="277" text-anchor="middle" style="font-family:'Liberation Sans',sans-serif;font-size:12.2px;fill:#111;stroke:#111;stroke-width:0.2px">A2/EBV-GLC</text>
<text x="450.6" y="420.1" text-anchor="middle" style="font-family:'Liberation Sans',sans-serif;font-size:12.2px;fill:#111;stroke:#111;stroke-width:0.2px">A2/EBV-GLC</text>
<line x1="354.3" y1="17" x2="354.3" y2="321.5" stroke="#111" stroke-width="2.2"/>
<polygon points="354.3,9 349.6,19 359,19" fill="#111"/>
<path d="M169.5,4.8 C150,5 138.7,9 138.7,28 L138.7,104 C138.7,117.5 125,124.5 108.7,125.3 C125,126 138.7,133 138.7,146.5 L138.7,222 C138.7,242 150,246.2 169.5,246.6" fill="none" stroke="#111" stroke-width="2.3"/>
<path d="M153.2,283.5 C147,284 145,287 145,294 L145,332.5 C145,340 141,344.2 136.5,345.2 C141,346.2 145,350.4 145,358 L145,396 C145,403.5 147,406.3 153.2,406.8" fill="none" stroke="#111" stroke-width="2.3"/>
</g>
<g>
<rect x="157.5" y="460.2" width="268.0" height="205.50000000000006" fill="#fff" stroke="#9a9a9a" stroke-width="1"/>
<line x1="157.5" y1="460.2" x2="157.5" y2="665.7" stroke="#222" stroke-width="1"/>
<line x1="157.5" y1="665.7" x2="425.5" y2="665.7" stroke="#222" stroke-width="1"/>
<line x1="153.0" y1="665.7" x2="157.5" y2="665.7" stroke="#222" stroke-width="1"/>
<text x="148.5" y="670.6" text-anchor="end" style="font-family:'Liberation Sans',sans-serif;font-size:12.2px;fill:#111">0</text>
<line x1="153.0" y1="624.6" x2="157.5" y2="624.6" stroke="#222" stroke-width="1"/>
<text x="148.5" y="629.5" text-anchor="end" style="font-family:'Liberation Sans',sans-serif;font-size:12.2px;fill:#111">20</text>
<line x1="153.0" y1="583.5" x2="157.5" y2="583.5" stroke="#222" stroke-width="1"/>
<text x="148.5" y="588.4" text-anchor="end" style="font-family:'Liberation Sans',sans-serif;font-size:12.2px;fill:#111">40</text>
<line x1="153.0" y1="542.4" x2="157.5" y2="542.4" stroke="#222" stroke-width="1"/>
<text x="148.5" y="547.3" text-anchor="end" style="font-family:'Liberation Sans',sans-serif;font-size:12.2px;fill:#111">60</text>
<line x1="153.0" y1="501.3" x2="157.5" y2="501.3" stroke="#222" stroke-width="1"/>
<text x="148.5" y="506.2" text-anchor="end" style="font-family:'Liberation Sans',sans-serif;font-size:12.2px;fill:#111">80</text>
<line x1="153.0" y1="460.19999999999993" x2="157.5" y2="460.19999999999993" stroke="#222" stroke-width="1"/>
<text x="148.5" y="465.0999999999999" text-anchor="end" style="font-family:'Liberation Sans',sans-serif;font-size:12.2px;fill:#111">100</text>
<rect x="171" y="595.419" width="19.6" height="70.28100000000006" fill="#000" stroke="#111" stroke-width="1"/><line x1="180.8" y1="595.419" x2="180.8" y2="572.1975" stroke="#222" stroke-width="1"/><line x1="179.0" y1="572.1975" x2="182.60000000000002" y2="572.1975" stroke="#222" stroke-width="1"/>
<rect x="190.6" y="513.63" width="19" height="152.07000000000005" fill="#fff" stroke="#111" stroke-width="1"/><line x1="200.1" y1="513.63" x2="200.1" y2="476.64" stroke="#222" stroke-width="1"/><line x1="198.29999999999998" y1="476.64" x2="201.9" y2="476.64" stroke="#222" stroke-width="1"/>
<rect x="238" y="625.0110000000001" width="19.8" height="40.688999999999965" fill="#000" stroke="#111" stroke-width="1"/><line x1="247.9" y1="625.0110000000001" x2="247.9" y2="608.571" stroke="#222" stroke-width="1"/><line x1="246.1" y1="608.571" x2="249.70000000000002" y2="608.571" stroke="#222" stroke-width="1"/>
<rect x="305.4" y="634.464" width="19.6" height="31.23599999999999" fill="#000" stroke="#111" stroke-width="1"/><line x1="315.2" y1="634.464" x2="315.2" y2="616.5855" stroke="#222" stroke-width="1"/><line x1="313.4" y1="616.5855" x2="317.0" y2="616.5855" stroke="#222" stroke-width="1"/>
<rect x="325" y="596.4465" width="19" height="69.25350000000003" fill="#fff" stroke="#111" stroke-width="1"/><line x1="334.5" y1="596.4465" x2="334.5" y2="553.2915" stroke="#222" stroke-width="1"/><line x1="332.7" y1="553.2915" x2="336.3" y2="553.2915" stroke="#222" stroke-width="1"/>
<rect x="373" y="638.5740000000001" width="19.5" height="27.125999999999976" fill="#000" stroke="#111" stroke-width="1"/><line x1="382.75" y1="638.5740000000001" x2="382.75" y2="609.8040000000001" stroke="#222" stroke-width="1"/><line x1="380.95" y1="609.8040000000001" x2="384.55" y2="609.8040000000001" stroke="#222" stroke-width="1"/>
<rect x="392.5" y="539.7285" width="19.6" height="125.97149999999999" fill="#fff" stroke="#111" stroke-width="1"/><line x1="402.3" y1="539.7285" x2="402.3" y2="494.5185" stroke="#222" stroke-width="1"/><line x1="400.5" y1="494.5185" x2="404.1" y2="494.5185" stroke="#222" stroke-width="1"/>
<text x="82.4" y="472.7" style="font-family:'Liberation Sans',sans-serif;font-size:21.5px;fill:#111">B</text>
<text transform="translate(122.5 550.5) rotate(-90)" text-anchor="middle" style="font-family:'Liberation Sans',sans-serif;font-weight:bold;fill:#0c0c0c;stroke:#0c0c0c;stroke-width:0.3px;font-size:12.2px">% of CD127+ T cells</text>
<rect x="246.3" y="504.1" width="6.8" height="6.8" fill="#000"/>
<rect x="246.8" y="518.6" width="5.7" height="5.7" fill="#fff" stroke="#111" stroke-width="1"/>
<text x="253.3" y="510.3" style="font-family:'Liberation Sans',sans-serif;font-weight:bold;fill:#0c0c0c;stroke:#0c0c0c;stroke-width:0.3px;font-size:9.4px">HIV</text>
<text x="253.3" y="524.2" style="font-family:'Liberation Sans',sans-serif;font-weight:bold;fill:#0c0c0c;stroke:#0c0c0c;stroke-width:0.3px;font-size:9.4px">Ctrl</text>
<text x="331.9" y="483" text-anchor="middle" style="font-family:'Liberation Sans',sans-serif;font-weight:bold;fill:#0c0c0c;stroke:#0c0c0c;stroke-width:0.3px;font-size:12px">*</text>
<text x="343.5" y="479" style="font-family:'Liberation Sans',sans-serif;font-weight:bold;fill:#0c0c0c;stroke:#0c0c0c;stroke-width:0.3px;font-size:8.2px">p&lt; 0.05</text>
<text x="331.2" y="500.5" text-anchor="middle" style="font-family:'Liberation Sans',sans-serif;font-weight:bold;fill:#0c0c0c;stroke:#0c0c0c;stroke-width:0.3px;font-size:12px">**</text>
<text x="343.5" y="496.5" style="font-family:'Liberation Sans',sans-serif;font-weight:bold;fill:#0c0c0c;stroke:#0c0c0c;stroke-width:0.3px;font-size:8.2px">p&lt; 0.01</text>
<text x="181.5" y="571" text-anchor="middle" style="font-family:'Liberation Sans',sans-serif;font-weight:bold;fill:#0c0c0c;stroke:#0c0c0c;stroke-width:0.3px;font-size:12.5px">**</text>
<text x="316.3" y="615" text-anchor="middle" style="font-family:'Liberation Sans',sans-serif;font-weight:bold;fill:#0c0c0c;stroke:#0c0c0c;stroke-width:0.3px;font-size:12.5px">*</text>
<text x="383.5" y="607" text-anchor="middle" style="font-family:'Liberation Sans',sans-serif;font-weight:bold;fill:#0c0c0c;stroke:#0c0c0c;stroke-width:0.3px;font-size:12.5px">**</text>
<text x="190.5" y="677.1" text-anchor="middle" style="font-family:'Liberation Sans',sans-serif;font-weight:bold;fill:#0c0c0c;stroke:#0c0c0c;stroke-width:0.3px;font-size:7.9px">CD8</text>
<text x="190.5" y="686.8" text-anchor="middle" style="font-family:'Liberation Sans',sans-serif;font-weight:bold;fill:#0c0c0c;stroke:#0c0c0c;stroke-width:0.3px;font-size:7.9px">memory</text>
<text x="248" y="677.5" text-anchor="middle" style="font-family:'Liberation Sans',sans-serif;font-weight:bold;fill:#0c0c0c;stroke:#0c0c0c;stroke-width:0.3px;font-size:7.9px">HIV GAG</text>
<text x="325" y="677.5" text-anchor="middle" style="font-family:'Liberation Sans',sans-serif;font-weight:bold;fill:#0c0c0c;stroke:#0c0c0c;stroke-width:0.3px;font-size:7.9px">CMV pp65</text>
<text x="393.8" y="677.5" text-anchor="middle" style="font-family:'Liberation Sans',sans-serif;font-weight:bold;fill:#0c0c0c;stroke:#0c0c0c;stroke-width:0.3px;font-size:7.9px">EBV bmfl-1</text>
</g>
</svg>
</body></html>
